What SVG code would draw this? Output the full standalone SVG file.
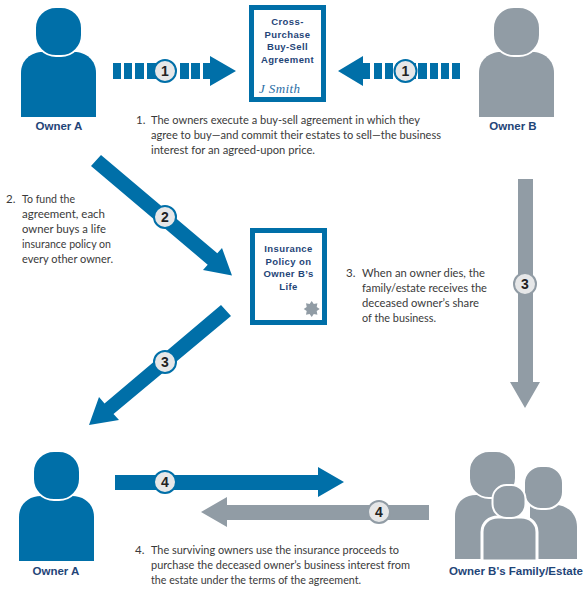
<svg xmlns="http://www.w3.org/2000/svg" width="587" height="593" viewBox="0 0 587 593">
<style>
.blue{fill:#006fa8}
.gray{fill:#919ca5}
.headb{fill:#006fa8;stroke:#fff;stroke-width:2}
.headg{fill:#919ca5;stroke:#fff;stroke-width:2}
.doc{fill:#fff;stroke:#006fa8;stroke-width:5}
.lbl{font-family:"Liberation Sans",Arial,sans-serif;font-size:11.5px;font-weight:700;fill:#1f4578;text-anchor:middle}
.dt{font-family:"Liberation Sans",Arial,sans-serif;font-size:9.5px;font-weight:700;letter-spacing:.4px;fill:#1f4578;text-anchor:middle}
.b{font-family:Lato,"Open Sans",sans-serif;font-size:11.5px;fill:#3a3a3a}
.cb{fill:#e6e7e8;stroke:#006fa8;stroke-width:2}
.cg{fill:#e6e7e8;stroke:#919ca5;stroke-width:2}
.n{font-family:"Liberation Sans",Arial,sans-serif;font-size:14px;font-weight:700;fill:#222;text-anchor:middle}
</style>
<defs>
<g id="person-b">
<path class="blue" d="M21 117V73C21 60 31 52 43 52H74C86 52 96 60 96 73V117Z"/>
<rect class="headb" x="35" y="7" width="47" height="49" rx="21"/>
</g>
<g id="person-g">
<path class="gray" d="M21 117V73C21 60 31 52 43 52H74C86 52 96 60 96 73V117Z"/>
<rect class="headg" x="35" y="7" width="47" height="49" rx="21"/>
</g>
</defs>

<g id="connectors">
<g id="arrow-1-left">
<path class="blue" d="M113 63h8v16h-8zM124 63h8v16h-8zM135 63h9v16h-9zM147 63h9v16h-9zM180 63h9v16h-9zM191 63h9v16h-9zM203 63h7V56L236 71 210 86V79h-7z"/>
<circle class="cb" cx="165" cy="71" r="11"/><text class="n" x="165" y="76">1</text>
</g>
<g id="arrow-1-right">
<path class="blue" d="M338 71 363 56V63h7v16h-7v7zM374 63h8v16h-8zM385 63h8v16h-8zM418 63h9v16h-9zM430 63h8v16h-8zM441 63h8v16h-8zM452 63h8v16h-8zM396 63h20v16h-20z"/>
<circle class="cb" cx="405.500" cy="71" r="11"/><text class="n" x="405.500" y="76">1</text>
</g>
<g id="arrow-2">
<polygon class="blue" points="91,166 101,155 217.300,253.300 222,248 232,275.500 203,270 207.700,264.700"/>
<circle class="cb" cx="165" cy="217" r="11"/><text class="n" x="165" y="222">2</text>
</g>
<g id="arrow-3-blue">
<polygon class="blue" points="221,305 231,316 113.500,414 119,420 89,425 99,397 104.500,403.500"/>
<circle class="cb" cx="165" cy="362" r="11"/><text class="n" x="165" y="367">3</text>
</g>
<g id="arrow-3-gray">
<polygon class="gray" points="518,179 533,179 533,382 540,382 525,408 510,382 518,382"/>
<circle class="cg" cx="525" cy="284" r="11"/><text class="n" x="525" y="289">3</text>
</g>
<g id="arrow-4-blue">
<polygon class="blue" points="115,475 318,475 318,467 344,482 318,497 318,490 115,490"/>
<circle class="cb" cx="165" cy="482" r="11"/><text class="n" x="165" y="487">4</text>
</g>
<g id="arrow-4-gray">
<polygon class="gray" points="429,505 227,505 227,497 201,512 227,527 227,520 429,520"/>
<circle class="cg" cx="379" cy="512" r="11"/><text class="n" x="379" y="517">4</text>
</g>
</g>

<g id="owner-a-top">
<use href="#person-b"/>
<text class="lbl" x="59" y="130">Owner A</text>
</g>
<g id="owner-b-top">
<use href="#person-g" x="458"/>
<text class="lbl" x="513" y="130">Owner B</text>
</g>
<g id="agreement">
<rect class="doc" x="251.500" y="7.500" width="72" height="92"/>
<text class="dt" x="287.500" y="25">Cross-</text>
<text class="dt" x="287.500" y="37.500">Purchase</text>
<text class="dt" x="287.500" y="50">Buy-Sell</text>
<text class="dt" x="287.500" y="63">Agreement</text>
<text x="259" y="93" font-family="Liberation Serif,serif" font-style="italic" font-size="13" fill="#2a6ea6" textLength="41">J Smith</text>
</g>
<g id="insurance-policy">
<rect class="doc" x="252.500" y="230.500" width="72" height="92"/>
<text class="dt" x="288.500" y="252">Insurance</text>
<text class="dt" x="288.500" y="265">Policy on</text>
<text class="dt" x="288.500" y="277">Owner B’s</text>
<text class="dt" x="288.500" y="290">Life</text>
<polygon class="gray" points="311.700,301 313.800,304 317.400,303.300 316.700,306.900 319.700,309 316.700,311.100 317.400,314.700 313.800,314 311.700,317 309.600,314 306,314.700 306.700,311.100 303.700,309 306.700,306.900 306,303.300 309.600,304"/>
</g>
<g id="owner-a-bottom">
<use href="#person-b" x="-2" y="444"/>
<text class="lbl" x="56" y="575">Owner A</text>
</g>
<g id="family-estate">
<path class="gray" d="M455 559V516C455 503 464 495 476 495H500V559Z"/>
<rect class="headg" x="469" y="451" width="47" height="47" rx="20"/>
<path class="gray" d="M530 559V505H555C568 505 577 514 577 527V559Z"/>
<rect class="headg" x="524" y="466" width="39" height="43" rx="17"/>
<path class="gray" stroke="#fff" stroke-width="3" d="M482 561V532C482 523 489 517 498 517H521C530 517 537 523 537 532V561Z"/>
<rect class="headg" x="492.500" y="485" width="33" height="33" rx="14"/>
<text class="lbl" x="516" y="575">Owner B's Family/Estate</text>
</g>

<g id="note-1">
<text class="b" x="136" y="124">1.</text>
<text class="b" x="151" y="124" textLength="269" lengthAdjust="spacingAndGlyphs">The owners execute a buy-sell agreement in which they</text>
<text class="b" x="151" y="139" textLength="290" lengthAdjust="spacingAndGlyphs">agree to buy—and commit their estates to sell—the business</text>
<text class="b" x="151" y="154" textLength="164" lengthAdjust="spacingAndGlyphs">interest for an agreed-upon price.</text>
</g>
<g id="note-2">
<text class="b" x="6" y="203">2.</text>
<text class="b" x="22" y="203" textLength="53" lengthAdjust="spacingAndGlyphs">To fund the</text>
<text class="b" x="22" y="218" textLength="83" lengthAdjust="spacingAndGlyphs">agreement, each</text>
<text class="b" x="22" y="233" textLength="84" lengthAdjust="spacingAndGlyphs">owner buys a life</text>
<text class="b" x="22" y="248" textLength="89" lengthAdjust="spacingAndGlyphs">insurance policy on</text>
<text class="b" x="22" y="263" textLength="91" lengthAdjust="spacingAndGlyphs">every other owner.</text>
</g>
<g id="note-3">
<text class="b" x="346" y="277">3.</text>
<text class="b" x="362" y="277" textLength="123" lengthAdjust="spacingAndGlyphs">When an owner dies, the</text>
<text class="b" x="362" y="292" textLength="125" lengthAdjust="spacingAndGlyphs">family/estate receives the</text>
<text class="b" x="362" y="307" textLength="117" lengthAdjust="spacingAndGlyphs">deceased owner’s share</text>
<text class="b" x="362" y="322" textLength="74" lengthAdjust="spacingAndGlyphs">of the business.</text>
</g>
<g id="note-4">
<text class="b" x="135" y="554">4.</text>
<text class="b" x="151" y="554" textLength="248" lengthAdjust="spacingAndGlyphs">The surviving owners use the insurance proceeds to</text>
<text class="b" x="151" y="569" textLength="259" lengthAdjust="spacingAndGlyphs">purchase the deceased owner’s business interest from</text>
<text class="b" x="151" y="584" textLength="210" lengthAdjust="spacingAndGlyphs">the estate under the terms of the agreement.</text>
</g>
</svg>
